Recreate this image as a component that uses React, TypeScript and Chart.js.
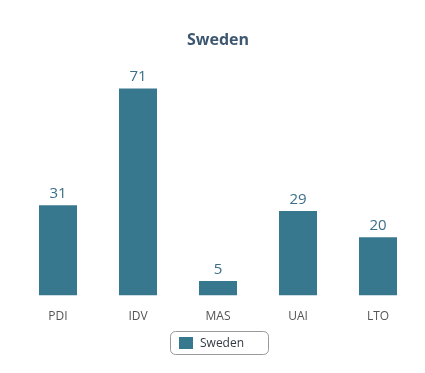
import React, { useEffect, useRef } from "react";
import { Chart, registerables } from "chart.js";

Chart.register(...registerables);

const categories = ["PDI", "IDV", "MAS", "UAI", "LTO"];
const seriesName = "Sweden";
const values = [31, 71, 5, 29, 20];

const BAR = "#37788f";
const TEXT = "#3d5770";
const FONT = "'Open Sans', 'DejaVu Sans', sans-serif";

const valueLabels = {
  id: "valueLabels",
  afterDatasetsDraw(chart: any) {
    const ctx = chart.ctx;
    const meta = chart.getDatasetMeta(0);
    ctx.save();
    ctx.font = `15px ${FONT}`;
    ctx.fillStyle = "#3b6e88";
    ctx.textAlign = "center";
    ctx.textBaseline = "bottom";
    meta.data.forEach((bar: any, i: number) => {
      ctx.fillText(String(chart.data.datasets[0].data[i]), bar.x, bar.y - 4);
    });
    ctx.restore();
  },
};

const customLegend = {
  id: "customLegend",
  afterDraw(chart: any) {
    const ctx = chart.ctx;
    const ds = chart.data.datasets[0];
    const w = 98;
    const h = 23;
    const x = 170;
    const y = 331;
    ctx.save();
    ctx.strokeStyle = "#999999";
    ctx.lineWidth = 1;
    ctx.beginPath();
    ctx.roundRect(x + 0.5, y + 0.5, w, h, 5);
    ctx.stroke();
    ctx.fillStyle = ds.backgroundColor;
    ctx.fillRect(x + 9, y + 6, 14, 12);
    ctx.fillStyle = "#333a44";
    ctx.font = `12px ${FONT}`;
    ctx.textAlign = "left";
    ctx.textBaseline = "middle";
    ctx.fillText(ds.label, x + 30, y + 12.5);
    ctx.restore();
  },
};

export default function App() {
  const ref = useRef<HTMLCanvasElement>(null);
  useEffect(() => {
    if (!ref.current) return;
    const chart = new Chart(ref.current, {
      type: "bar",
      data: {
        labels: categories,
        datasets: [
          {
            label: seriesName,
            data: values,
            backgroundColor: BAR,
            borderWidth: 0,
            barPercentage: 0.475,
            categoryPercentage: 1,
          },
        ],
      },
      options: {
        animation: false,
        responsive: false,
        maintainAspectRatio: false,
        layout: { padding: { left: 18, right: 7, top: 8, bottom: 35 } },
        plugins: {
          title: {
            display: true,
            text: "Sweden",
            color: TEXT,
            font: { family: FONT, size: 16, weight: "bold" },
            padding: { top: 23, bottom: 12 },
          },
          legend: { display: false },
          tooltip: { enabled: false },
        },
        scales: {
          x: {
            grid: { display: false, drawTicks: false },
            border: { display: false },
            ticks: { color: "#555555", font: { family: FONT, size: 12 }, padding: 14 },
          },
          y: {
            display: false,
            min: 0,
            max: 80,
          },
        },
      },
      plugins: [valueLabels, customLegend],
    });
    return () => chart.destroy();
  }, []);
  return (
    <div style={{ position: "absolute", left: 0, top: 0, width: 425, height: 373, background: "#fff" }}>
      <canvas ref={ref} width={425} height={373} style={{ width: 425, height: 373 }} />
    </div>
  );
}
